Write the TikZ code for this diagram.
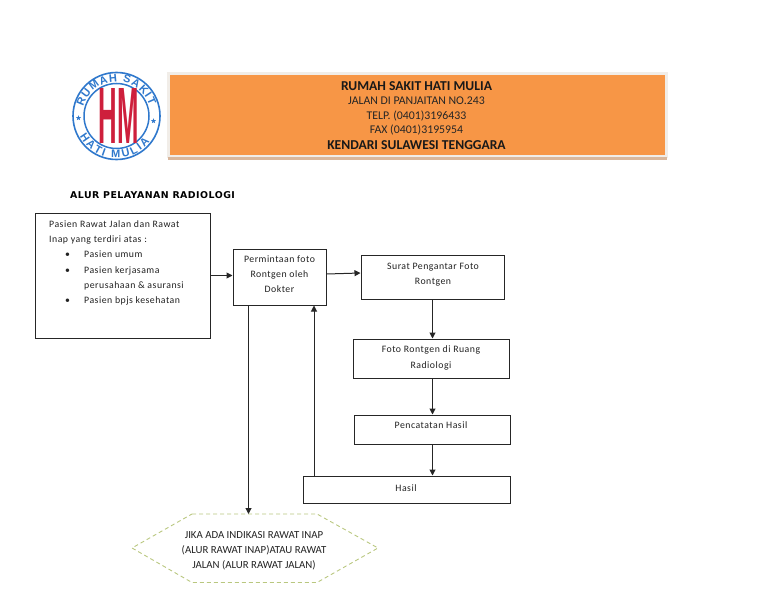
\documentclass[tikz,border=0pt]{standalone}
\usepackage{fontspec}
\usepackage{graphicx}
\setmainfont{Carlito}
\newfontfamily\headfont[LetterSpace=5]{DejaVu Sans}
\newfontfamily\logofont{Liberation Sans}
\newfontfamily\bodyfont[LetterSpace=5]{Carlito}
\usetikzlibrary{arrows.meta,decorations.text,shapes.geometric,calc}
\definecolor{hdrorange}{HTML}{F79646}
\definecolor{hdrshadow}{HTML}{D9B79C}
\definecolor{hdredge}{HTML}{F1EDE8}
\definecolor{logoblue}{HTML}{2F78CC}
\definecolor{logored}{HTML}{CE1F3C}
\definecolor{hexline}{HTML}{B9C77F}
\definecolor{inkdark}{HTML}{222222}
\tikzset{
  flowbox/.style={draw=black!85,line width=1pt,fill=white,inner sep=0pt},
  flowtext/.style={font=\bodyfont\fontsize{9.8}{15.2}\selectfont,text=inkdark,align=center,inner sep=0pt},
  link/.style={draw=black!85,line width=1pt,-{Triangle[length=6pt,width=6pt]}},
  hdrbig/.style={font=\bfseries\fontsize{13.6}{14}\selectfont,text=black!90,inner sep=0pt},
  hdrsmall/.style={font=\fontsize{11.8}{13}\selectfont,text=black!85,inner sep=0pt},
  logotext/.style={decorate,decoration={text along path,text color=logoblue,
    text={|\logofont\bfseries\fontsize{11}{11}\selectfont|#1},text align={fit to path}}},
}
\begin{document}
\begin{tikzpicture}[x=1pt,y=-1pt]
\useasboundingbox (0,0) rectangle (768,594);
% header band
\fill[hdredge] (167,72) rectangle (668,158);
\fill[hdrshadow] (168,157) rectangle (667,160);
\fill[hdrorange] (170,75) rectangle (665,155);
\node[hdrbig] (h1) at (416.5,86) {RUMAH SAKIT HATI MULIA};
\node[hdrsmall] (h2) at (416.5,101) {JALAN DI PANJAITAN NO.243};
\node[hdrsmall] (h3) at (416.5,116) {TELP. (0401)3196433};
\node[hdrsmall] (h4) at (416.5,130) {FAX (0401)3195954};
\node[hdrbig] (h5) at (416.5,145.5) {KENDARI SULAWESI TENGGARA};
% logo
\coordinate (logoc) at (116.5,116);
\draw[logoblue,line width=1.6pt] (logoc) circle[radius=43.5];
\draw[logoblue,line width=1.5pt] (logoc) circle[radius=32.5];
\begin{scope}[shift={(116.5,116)},y=1pt]
\path[logotext={RUMAH SAKIT}] (164:34.5) arc[start angle=164,end angle=18,radius=34.5];
\path[logotext={HATI MULIA}] (209:42) arc[start angle=209,end angle=322,radius=42];
\end{scope}
\node[star,star points=5,star point ratio=2.4,fill=logoblue,inner sep=0pt,minimum size=5.5pt] (s1) at (78.5,118) {};
\node[star,star points=5,star point ratio=2.4,fill=logoblue,inner sep=0pt,minimum size=5.5pt] (s2) at (153.5,121) {};
\node[text=logored,inner sep=0pt] (hm) at (118.5,116) {\resizebox{40pt}{55pt}{\logofont\bfseries HM}};
% title
\node[anchor=west,inner sep=0pt,font=\headfont\bfseries\fontsize{9.4}{10}\selectfont,text=black] (title) at (70,195) {ALUR PELAYANAN RADIOLOGI};
% boxes
\node[flowbox,minimum width=175pt,minimum height=125pt] (b1) at (122.5,275.5) {};
\node[flowbox,minimum width=93pt,minimum height=56pt] (b2) at (279.5,277) {};
\node[flowbox,minimum width=143pt,minimum height=44pt] (b3) at (432.5,277) {};
\node[flowbox,minimum width=156pt,minimum height=39pt] (b4) at (431,358.5) {};
\node[flowbox,minimum width=156pt,minimum height=29pt] (b5) at (432,429.5) {};
\node[flowbox,minimum width=207pt,minimum height=27pt] (b6) at (406.5,489.5) {};
% box texts
\node[flowtext,anchor=north west,align=left] (t1) at (49,220.5) {Pasien Rawat Jalan dan Rawat\\
Inap yang terdiri atas :\\
\makebox[35pt][l]{\hspace*{16pt}•}Pasien umum\\
\makebox[35pt][l]{\hspace*{16pt}•}Pasien kerjasama\\
\makebox[35pt][l]{}perusahaan \& asuransi\\
\makebox[35pt][l]{\hspace*{16pt}•}Pasien bpjs kesehatan};
\node[flowtext] (t2) at (279.5,274) {Permintaan foto\\Rontgen oleh\\Dokter};
\node[flowtext] (t3) at (433,274.5) {Surat Pengantar Foto\\Rontgen};
\node[flowtext] (t4) at (431,358) {Foto Rontgen di Ruang\\Radiologi};
\node[flowtext] (t5) at (431,425.5) {Pencatatan Hasil};
\node[flowtext] (t6) at (406,488) {Hasil};
% hexagon
\coordinate (hxtl) at (192,514);
\coordinate (hxtm) at (248.5,514);
\coordinate (hxtr) at (317,514);
\coordinate (hxr) at (378,548);
\coordinate (hxbr) at (317,582.5);
\coordinate (hxbl) at (192,582.5);
\coordinate (hxl) at (132,548);
\draw[hexline,line width=0.9pt,dash pattern=on 4pt off 3pt] (hxtl) -- (hxtr) -- (hxr) -- (hxbr) -- (hxbl) -- (hxl) -- cycle;
\node[font=\fontsize{10.8}{15.2}\selectfont,text=inkdark,align=center,inner sep=0pt] (t7) at (254,551) {JIKA ADA INDIKASI RAWAT INAP\\(ALUR RAWAT INAP)ATAU RAWAT\\JALAN (ALUR RAWAT JALAN)};
% connectors
\draw[link] (b1.east) -- (b1.east -| b2.west);
\draw[link] ([yshift=3pt]b2.east) -- ([yshift=4pt]b3.west);
\draw[link] (b3.south) -- (b3.south |- b4.north);
\draw[link] (b3.south |- b4.south) -- (b3.south |- b5.north);
\draw[link] (b3.south |- b5.south) -- (b3.south |- b6.north);
\draw[link] (b6.north -| 314,0) -- (b2.south -| 314,0);
\draw[link] (b2.south -| hxtm) -- (hxtm);
\end{tikzpicture}
\end{document}
